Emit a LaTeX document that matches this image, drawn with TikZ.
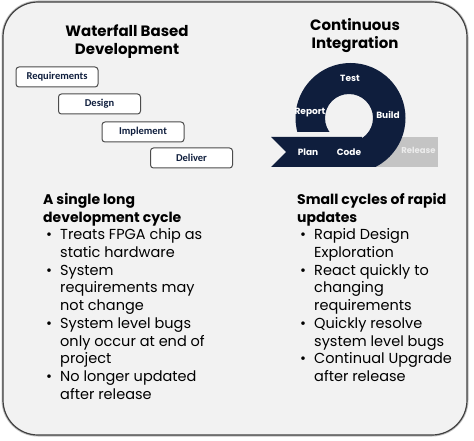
\documentclass[tikz,border=0pt]{standalone}
\usepackage{fontspec}
\setmainfont{Poppins}
\newfontfamily\boxfont{Carlito}
\definecolor{navy}{HTML}{0F1E3D}
\definecolor{bgc}{HTML}{F2F2F2}
\definecolor{relgray}{HTML}{C4C4C4}
\definecolor{reltext}{HTML}{ECECEC}
\newcommand\bul{\makebox[17pt][l]{\hspace{3pt}\textbullet}}
\newcommand\ind{\hspace*{17pt}}
\begin{document}
\begin{tikzpicture}[x=1pt,y=-1pt,
  title/.style={font=\bfseries\fontsize{15}{18}\selectfont, align=center, inner sep=0pt},
  wbox/.style={draw=black!70, line width=1pt, fill=white, rounded corners=3pt,
    minimum width=82pt, minimum height=20pt, inner sep=0pt, text=navy,
    font=\boxfont\bfseries\fontsize{10.5}{12}\selectfont},
  ringlbl/.style={text=white, font=\bfseries\fontsize{9}{10}\selectfont, inner sep=0pt},
  col/.style={align=left, inner sep=0pt, anchor=north west, text=black,
    font=\fontsize{14.5}{17.7}\selectfont}
  ]
\useasboundingbox (0,0) rectangle (474,441);
\fill[white] (0,0) rectangle (474,441);
% frame
\draw[gray!50, line width=3pt, rounded corners=35pt] (3,2) rectangle (467,435);
\draw[fill=bgc, draw=black!75, line width=1.2pt, rounded corners=35pt] (3,2) rectangle (467,435);

% titles
\node[title] (wft) at (127,42) {Waterfall Based\\Development};
\node[title] (cit) at (355,36) {Continuous\\Integration};

% waterfall boxes
\node[wbox] (req) at (57,77) {Requirements};
\node[wbox] (des) at (99.5,104) {Design};
\node[wbox] (imp) at (143,132) {Implement};
\node[wbox] (del) at (191.5,158) {Deliver};

% CI cycle
\fill[relgray] (372,137) rectangle (438,167);
\node[text=reltext, font=\bfseries\fontsize{8.5}{10}\selectfont, inner sep=0pt] (rel) at (418.5,150) {Release};
\begin{scope}
  \clip (280,50) -- (420,50) -- (420,167) -- (349,167) -- (349,132) -- (280,132) -- cycle;
  \fill[navy, even odd rule] (350.5,118) circle (55pt) (349,118) circle (24pt);
\end{scope}
\fill[navy] (271,137) -- (362,137) -- (362,167) -- (271,167) -- (286,152) -- cycle;
\node[ringlbl] (test) at (350,78) {Test};
\node[ringlbl] (rep) at (310,113) {Report};
\node[ringlbl] (bld) at (388,115) {Build};
\node[ringlbl] (plan) at (308,152) {Plan};
\node[ringlbl] (code) at (349,152) {Code};

% bottom text
\node[col] (left) at (43,193) {{\bfseries\fontsize{14}{17.7}\selectfont A single long}\\
{\bfseries\fontsize{14}{17.7}\selectfont development cycle}\\
\bul Treats FPGA chip as\\
\ind static hardware\\
\bul System\\
\ind requirements may\\
\ind not change\\
\bul System level bugs\\
\ind only occur at end of\\
\ind project\\
\bul No longer updated\\
\ind after release};
\node[col] (right) at (297,193) {{\bfseries\fontsize{14}{17.7}\selectfont Small cycles of rapid}\\
{\bfseries\fontsize{14}{17.7}\selectfont updates}\\
\bul Rapid Design\\
\ind Exploration\\
\bul React quickly to\\
\ind changing\\
\ind requirements\\
\bul Quickly resolve\\
\ind system level bugs\\
\bul Continual Upgrade\\
\ind after release};
\end{tikzpicture}
\end{document}
